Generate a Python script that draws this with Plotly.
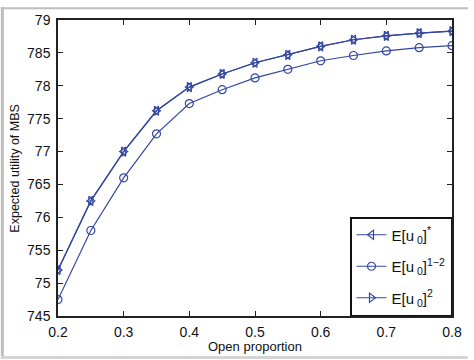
import plotly.graph_objects as go

x_vals = [0.2, 0.25, 0.3, 0.35, 0.4, 0.45, 0.5, 0.55, 0.6, 0.65, 0.7, 0.75, 0.8]
e_star = [75.2, 76.25, 77.0, 77.62, 77.98, 78.18, 78.35, 78.47, 78.6, 78.7, 78.76, 78.8, 78.83]
e_12 = [74.75, 75.8, 76.6, 77.27, 77.73, 77.94, 78.12, 78.25, 78.38, 78.46, 78.53, 78.58, 78.61]
e_2 = [75.2, 76.25, 77.0, 77.62, 77.98, 78.18, 78.35, 78.47, 78.6, 78.7, 78.76, 78.8, 78.83]

x_ticks = [0.2, 0.3, 0.4, 0.5, 0.6, 0.7, 0.8]
x_ticktext = ["0.2", "0.3", "0.4", "0.5", "0.6", "0.7", "0.8"]
y_ticks = [74.5, 75, 75.5, 76, 76.5, 77, 77.5, 78, 78.5, 79]
y_ticktext = ["745", "75", "755", "76", "765", "77", "775", "78", "785", "79"]
x_title = "Open proportion"
y_title = "Expected utility of MBS"

color = "#3347a0"
font_family = "Liberation Sans, Arial, sans-serif"

fig = go.Figure()
fig.add_trace(go.Scatter(
    x=x_vals, y=e_star, mode="lines+markers",
    name="E[u<sub> 0</sub>]<sup>*</sup>", legendgroup="a",
    line=dict(color=color, width=1.2),
    marker=dict(symbol="triangle-left-open", size=8, color=color, line=dict(width=1.2)),
))
fig.add_trace(go.Scatter(
    x=x_vals, y=e_12, mode="lines+markers",
    name="E[u<sub> 0</sub>]<sup>1\u22122</sup>", legendgroup="b",
    line=dict(color=color, width=1.2),
    marker=dict(symbol="circle-open", size=8, color=color, line=dict(width=1.2)),
))
fig.add_trace(go.Scatter(
    x=x_vals, y=e_2, mode="lines+markers",
    name="E[u<sub> 0</sub>]<sup>2</sup>", legendgroup="c",
    line=dict(color=color, width=1.2),
    marker=dict(symbol="triangle-right-open", size=8, color=color, line=dict(width=1.2)),
))

axis_common = dict(
    showgrid=False, zeroline=False, showline=True, mirror="ticks",
    linecolor="#222222", linewidth=1.5, ticks="inside", ticklen=5,
    tickcolor="#222222", tickwidth=1,
    tickfont=dict(family=font_family, size=14, color="#111111"),
)

fig.update_layout(
    width=474, height=360,
    margin=dict(l=58, r=16, t=13, b=44),
    paper_bgcolor="white", plot_bgcolor="white",
    font=dict(family=font_family, color="#111111"),
    xaxis=dict(range=[0.2, 0.8], tickvals=x_ticks, ticktext=x_ticktext,
               ticklabelstandoff=2, **axis_common),
    yaxis=dict(range=[74.5, 79], tickvals=y_ticks, ticktext=y_ticktext,
               ticklabelstandoff=3, **axis_common),
    legend=dict(
        x=1, y=0, xanchor="right", yanchor="bottom",
        bordercolor="#111111", borderwidth=1.5, bgcolor="white",
        font=dict(family=font_family, size=15, color="#111111"),
        tracegroupgap=9,
    ),
    showlegend=True,
)

fig.add_annotation(text=x_title, xref="paper", yref="paper",
                   x=0.5, y=-31/303, xanchor="center", yanchor="middle",
                   showarrow=False, font=dict(family=font_family, size=13, color="#111111"))
fig.add_annotation(text=y_title, xref="paper", yref="paper", textangle=-90,
                   x=-44/400, y=0.5, xanchor="center", yanchor="middle",
                   showarrow=False, font=dict(family=font_family, size=12.5, color="#111111"))

# light gray frame around the image
fig.add_shape(type="rect", xref="paper", yref="paper",
              x0=-58/400, x1=(400+16)/400, y0=1+11/303, y1=1+13/303,
              fillcolor="#bdbdbd", line=dict(width=0), layer="below")
fig.add_shape(type="rect", xref="paper", yref="paper",
              x0=-58/400, x1=-55/400, y0=-44/303, y1=1+13/303,
              fillcolor="#bdbdbd", line=dict(width=0), layer="below")
fig.add_shape(type="rect", xref="paper", yref="paper",
              x0=-58/400, x1=(400+16)/400, y0=-44/303, y1=-41/303,
              fillcolor="#d5d5d5", line=dict(width=0), layer="below")

fig.write_html("out.html", config={"displayModeBar": False},
               post_script="document.body.style.margin='0';document.body.style.overflow='hidden';")
